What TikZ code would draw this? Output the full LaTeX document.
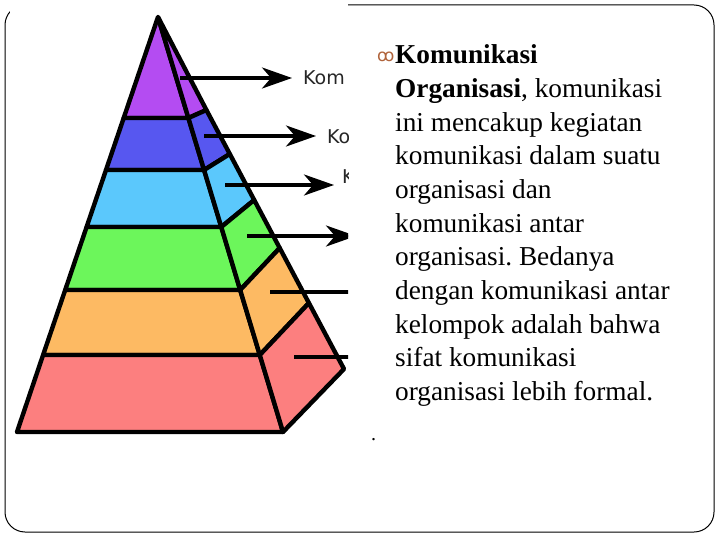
\documentclass[tikz,border=0pt]{standalone}
\usepackage{fontspec}
\setmainfont{Liberation Serif}
\newfontfamily\labelfont{DejaVu Sans}
\usetikzlibrary{arrows.meta}
\definecolor{cpurple}{HTML}{B44CF2}
\definecolor{cblue}{HTML}{5757F0}
\definecolor{ccyan}{HTML}{5BC8FC}
\definecolor{cgreen}{HTML}{6CF65B}
\definecolor{corange}{HTML}{FDBA63}
\definecolor{cred}{HTML}{FC7F7F}
\definecolor{bulletc}{HTML}{B0643C}
\tikzset{
  face/.style={draw=black, line width=4.4pt, line join=round},
  pointer/.style={line width=3.3pt, -{Stealth[length=30pt,width=21pt,inset=9pt]}},
  lbl/.style={font=\labelfont\fontsize{19}{19}\selectfont, text=black!85, anchor=west, inner sep=0pt},
  frame/.style={draw=black, line width=1pt, rounded corners=20pt}
}
\begin{document}
\frenchspacing
\begin{tikzpicture}[x=1pt,y=-1pt]
\useasboundingbox (0,0) rectangle (720,540);
\draw[frame] (5,5) rectangle (714,532);
\fill[white] (9.5,-1) rectangle (348,13.5);
\begin{scope}
\clip (9.5,0) rectangle (348,540);
% pyramid points
\coordinate (apex) at (158,17);
\coordinate (l1) at (123.7,118);
\coordinate (l2) at (106,170);
\coordinate (l3) at (86.6,227);
\coordinate (l4) at (65.2,290);
\coordinate (l5) at (43.1,355);
\coordinate (l6) at (17,432);
\coordinate (f1) at (188.4,118);
\coordinate (f2) at (204.1,170);
\coordinate (f3) at (221.3,227);
\coordinate (f4) at (240.2,290);
\coordinate (f5) at (259.8,355);
\coordinate (f6) at (283,432);
\coordinate (o1) at (206.4,110);
\coordinate (o2) at (229.8,154);
\coordinate (o3) at (254.2,200);
\coordinate (o4) at (279.7,248);
\coordinate (o5) at (308.9,303);
\coordinate (o6) at (344,369);
% front faces
\filldraw[face, fill=cpurple] (apex) -- (f1) -- (l1) -- cycle;
\filldraw[face, fill=cblue] (l1) -- (f1) -- (f2) -- (l2) -- cycle;
\filldraw[face, fill=ccyan] (l2) -- (f2) -- (f3) -- (l3) -- cycle;
\filldraw[face, fill=cgreen] (l3) -- (f3) -- (f4) -- (l4) -- cycle;
\filldraw[face, fill=corange] (l4) -- (f4) -- (f5) -- (l5) -- cycle;
\filldraw[face, fill=cred] (l5) -- (f5) -- (f6) -- (l6) -- cycle;
% side faces
\filldraw[face, fill=cpurple] (apex) -- (o1) -- (f1) -- cycle;
\filldraw[face, fill=cblue] (f1) -- (o1) -- (o2) -- (f2) -- cycle;
\filldraw[face, fill=ccyan] (f2) -- (o2) -- (o3) -- (f3) -- cycle;
\filldraw[face, fill=cgreen] (f3) -- (o3) -- (o4) -- (f4) -- cycle;
\filldraw[face, fill=corange] (f4) -- (o4) -- (o5) -- (f5) -- cycle;
\filldraw[face, fill=cred] (f5) -- (o5) -- (o6) -- (f6) -- cycle;
% arrows
\coordinate (s1) at (180,78);  \coordinate (t1) at (292,78);
\coordinate (s2) at (204,136); \coordinate (t2) at (316,136);
\coordinate (s3) at (225,185); \coordinate (t3) at (334,185);
\coordinate (s4) at (247,236); \coordinate (t4) at (356,236);
\coordinate (s5) at (270,292); \coordinate (t5) at (380,292);
\coordinate (s6) at (294,357); \coordinate (t6) at (404,357);
\draw[pointer] (s1) -- (t1);
\draw[pointer] (s2) -- (t2);
\draw[pointer] (s3) -- (t3);
\draw[pointer] (s4) -- (t4);
\draw[pointer] (s5) -- (t5);
\draw[pointer] (s6) -- (t6);
\node[lbl] (k1) at (303,78) {Kom};
\node[lbl] (k2) at (327,137) {Ko};
\node[lbl] (k3) at (342,177) {K};
\end{scope}
% text
\node[anchor=base west, inner sep=0pt, text=bulletc, font=\labelfont\fontsize{17}{17}\selectfont] (bul) at (377,62) {ꝏ};
\node[anchor=north west, align=left, inner sep=0pt, font=\fontsize{27.3}{33.7}\selectfont] (txt) at (395,44.5)
{\textbf{Komunikasi}\\
\textbf{Organisasi}, komunikasi\\
ini mencakup kegiatan\\
komunikasi dalam suatu\\
organisasi dan\\
komunikasi antar\\
organisasi. Bedanya\\
dengan komunikasi antar\\
kelompok adalah bahwa\\
sifat komunikasi\\
organisasi lebih formal.};
\node[anchor=base west, inner sep=0pt, font=\fontsize{20}{20}\selectfont] (dot) at (371,440) {.};
\end{tikzpicture}
\end{document}
